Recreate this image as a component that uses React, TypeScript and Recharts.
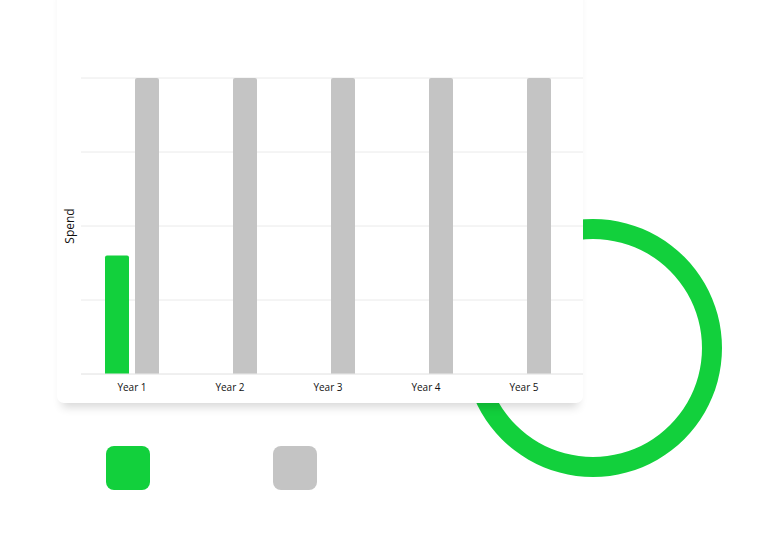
import React from "react";
import { BarChart, Bar, XAxis, YAxis, CartesianGrid, PieChart, Pie, Cell } from "recharts";

const years = ["Year 1", "Year 2", "Year 3", "Year 4", "Year 5"];
const actualSpend = [40, null, null, null, null];
const plannedSpend = [100, 100, 100, 100, 100];
const yTicks = [0, 25, 50, 75, 100];
const ring = [{ name: "ring", value: 1 }];

const GREEN = "#12d03c";
const GRAY = "#c4c4c4";

const data = years.map((name, i) => ({
    name,
    actual: actualSpend[i],
    planned: plannedSpend[i],
}));

const App = () => {
    return (
        <div style={{ position: "absolute", left: 0, top: 0, width: 768, height: 544, background: "#fff", fontFamily: "Open Sans", overflow: "hidden" }}>
            {/* ring behind the card */}
            <div style={{ position: "absolute", left: 443, top: 198 }}>
                <PieChart width={300} height={300} margin={{ top: 0, right: 0, bottom: 0, left: 0 }}>
                    <Pie
                        data={ring}
                        dataKey="value"
                        cx={150}
                        cy={150}
                        innerRadius={109}
                        outerRadius={129}
                        startAngle={90}
                        endAngle={-270}
                        stroke="none"
                        isAnimationActive={false}
                    >
                        <Cell fill={GREEN} />
                    </Pie>
                </PieChart>
            </div>

            {/* card, top edge pushed off the page */}
            <div
                style={{
                    position: "absolute",
                    left: 57,
                    top: -20,
                    width: 526,
                    height: 423,
                    background: "#fff",
                    borderRadius: 7,
                    boxShadow: "0 9px 10px -5px rgba(0,0,0,0.16)",
                }}
            />

            <div style={{ position: "absolute", left: 0, top: 0 }}>
                <BarChart
                    width={600}
                    height={420}
                    data={data}
                    margin={{ top: 78, right: 17, left: 59, bottom: 16 }}
                    barSize={24}
                    barGap={6}
                >
                    <CartesianGrid vertical={false} stroke="#eaeaea" />
                    <XAxis
                        dataKey="name"
                        height={30}
                        padding={{ left: 2, right: 10 }}
                        axisLine={{ stroke: "#eaeaea" }}
                        tickLine={false}
                        tickMargin={4}
                        tick={{ fontSize: 10, fill: "#111", fontFamily: "Open Sans" }}
                    />
                    <YAxis
                        width={22}
                        domain={[0, 100]}
                        ticks={yTicks}
                        interval={0}
                        tick={{ fill: "transparent", fontSize: 1 }}
                        axisLine={false}
                        tickLine={false}
                        label={{ value: "Spend", angle: -90, position: "center", fontSize: 12, fill: "#111", fontFamily: "Open Sans" }}
                    />
                    <Bar dataKey="actual" fill={GREEN} radius={[2, 2, 0, 0]} isAnimationActive={false} />
                    <Bar dataKey="planned" fill={GRAY} radius={[2, 2, 0, 0]} isAnimationActive={false} />
                </BarChart>
            </div>

            {/* legend swatches */}
            <div style={{ position: "absolute", left: 106, top: 446, width: 44, height: 44, borderRadius: 8, background: GREEN }} />
            <div style={{ position: "absolute", left: 273, top: 446, width: 44, height: 44, borderRadius: 8, background: GRAY }} />
        </div>
    );
};

export default App;
